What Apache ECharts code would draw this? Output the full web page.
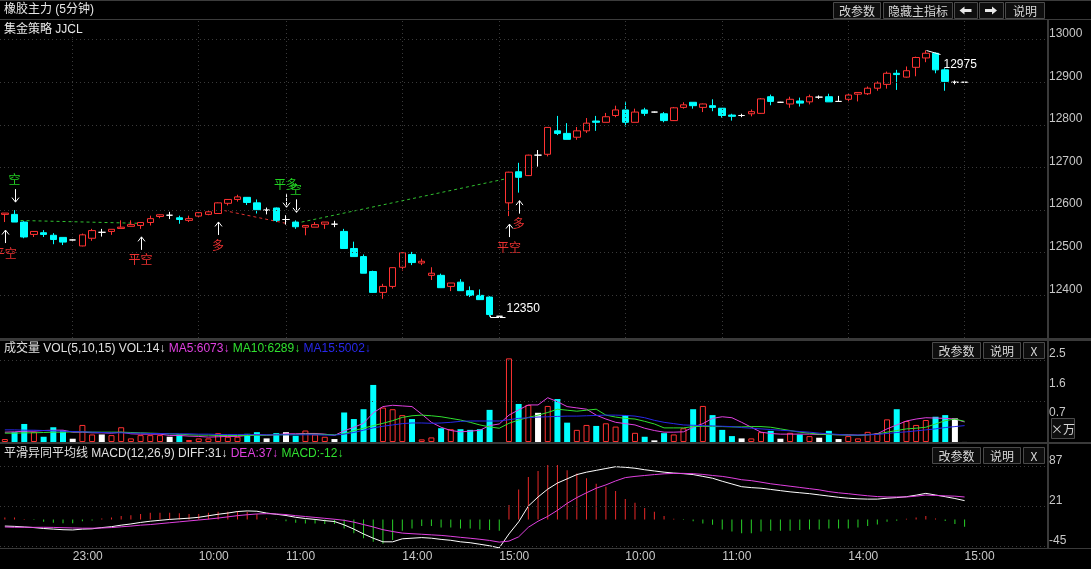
<!DOCTYPE html>
<html><head><meta charset="utf-8">
<script src="https://cdn.jsdelivr.net/npm/echarts@6/dist/echarts.min.js"></script>
<style>html,body{margin:0;padding:0;background:#000;}#c{width:1091px;height:569px;}</style>
</head><body><div id="c"></div>
<script>
// ---------- data ----------
const opens = [12590,12590,12572,12543,12547,12541,12536,12530,12516,12534,
 12548,12550,12557,12562,12564,12571,12585,12588,12582,12576,
 12586,12590,12592,12616,12625,12630,12617,12600,12605,12578,
 12572,12560,12560,12567,12567,12550,12510,12491,12456,12407,
 12421,12466,12496,12476,12447,12447,12421,12431,12411,12400,
 12396,12351,12617,12690,12681,12729,12731,12786,12780,12771,
 12786,12809,12806,12822,12835,12806,12835,12830,12826,12810,
 12841,12853,12841,12845,12839,12823,12822,12826,12827,12866,
 12853,12849,12856,12854,12865,12866,12855,12860,12872,12873,
 12886,12895,12921,12912,12935,12957,12968,12929,12900,12900];
const closes = [12593,12572,12537,12550,12543,12531,12525,12530,12542,12552,
 12548,12555,12560,12566,12571,12580,12589,12588,12578,12580,
 12594,12596,12617,12625,12631,12618,12601,12600,12576,12578,
 12561,12564,12566,12572,12567,12510,12491,12452,12407,12421,
 12465,12500,12477,12480,12452,12418,12429,12411,12400,12390,
 12355,12351,12689,12677,12729,12729,12794,12780,12766,12786,
 12804,12806,12819,12835,12806,12830,12827,12830,12810,12840,
 12847,12845,12849,12841,12822,12820,12822,12831,12861,12855,
 12853,12860,12851,12866,12865,12854,12855,12870,12876,12886,
 12898,12921,12918,12927,12958,12968,12929,12902,12900,12900];
const lows = [12572,12572,12534,12537,12537,12520,12518,12529,12515,12528,
 12538,12542,12557,12562,12556,12564,12581,12579,12568,12572,
 12582,12588,12591,12611,12620,12612,12592,12590,12572,12566,
 12556,12541,12560,12556,12560,12509,12491,12452,12407,12392,
 12416,12458,12471,12471,12436,12418,12410,12411,12396,12390,
 12350,12351,12586,12641,12680,12702,12726,12776,12766,12765,
 12781,12786,12806,12818,12796,12806,12821,12829,12806,12809,
 12838,12838,12830,12832,12817,12810,12818,12820,12826,12846,
 12852,12840,12843,12848,12861,12854,12855,12853,12855,12870,
 12880,12885,12882,12911,12914,12947,12921,12880,12895,12900];
const highs = [12593,12600,12574,12551,12553,12546,12536,12531,12545,12556,
 12556,12555,12576,12576,12572,12587,12590,12596,12587,12587,
 12595,12599,12618,12626,12636,12630,12625,12606,12606,12588,
 12576,12564,12572,12572,12575,12556,12526,12496,12458,12427,
 12466,12501,12502,12486,12466,12451,12429,12438,12421,12414,
 12398,12351,12690,12711,12730,12741,12795,12821,12804,12795,
 12816,12821,12828,12845,12853,12838,12840,12831,12830,12842,
 12853,12853,12850,12860,12839,12826,12826,12836,12863,12871,
 12854,12866,12864,12871,12869,12873,12868,12873,12877,12890,
 12902,12925,12929,12937,12960,12975,12970,12933,12904,12900];
// volume in 万 (x10000 lots)
const volumes = [0.09,0.30,0.55,0.31,0.16,0.45,0.35,0.10,0.52,0.23,
 0.23,0.21,0.45,0.11,0.21,0.21,0.21,0.16,0.23,0.06,
 0.11,0.11,0.27,0.16,0.16,0.25,0.30,0.11,0.27,0.30,
 0.19,0.35,0.23,0.16,0.09,0.90,0.70,1.00,1.74,1.05,
 1.00,0.82,0.70,0.08,0.14,0.42,0.39,0.39,0.37,0.39,
 0.98,0.00,2.55,1.16,1.13,0.89,1.10,1.31,0.59,0.37,
 0.52,0.49,0.57,0.47,0.82,0.28,0.16,0.05,0.27,0.23,
 0.42,1.00,1.10,0.82,0.37,0.18,0.11,0.11,0.30,0.34,
 0.10,0.28,0.23,0.18,0.13,0.34,0.09,0.18,0.11,0.31,
 0.27,0.69,1.00,0.64,0.52,0.67,0.77,0.82,0.72,0.0014];
const volMA5 = [0.30,0.31,0.33,0.33,0.35,0.36,0.36,0.30,0.30,0.28,
 0.28,0.27,0.30,0.25,0.24,0.24,0.24,0.20,0.20,0.18,
 0.17,0.15,0.16,0.17,0.17,0.20,0.23,0.21,0.22,0.25,
 0.25,0.26,0.26,0.24,0.20,0.34,0.45,0.57,0.89,1.08,
 1.12,1.10,1.08,0.85,0.60,0.45,0.35,0.31,0.33,0.36,
 0.50,0.55,0.82,0.98,1.13,1.13,1.35,1.23,1.08,1.04,
 1.00,0.82,0.70,0.60,0.56,0.52,0.42,0.35,0.30,0.30,
 0.31,0.45,0.56,0.72,0.77,0.74,0.60,0.45,0.30,0.26,
 0.24,0.24,0.24,0.24,0.23,0.23,0.22,0.22,0.21,0.22,
 0.25,0.40,0.52,0.64,0.70,0.74,0.73,0.72,0.70,0.61];
const volMA10 = [0.27,0.27,0.28,0.28,0.29,0.30,0.30,0.31,0.31,0.30,
 0.30,0.30,0.30,0.29,0.28,0.27,0.26,0.25,0.24,0.22,
 0.21,0.21,0.20,0.20,0.20,0.20,0.20,0.21,0.22,0.22,
 0.23,0.24,0.24,0.23,0.22,0.25,0.35,0.42,0.50,0.57,
 0.65,0.75,0.80,0.82,0.80,0.77,0.72,0.67,0.60,0.52,
 0.46,0.42,0.57,0.67,0.75,0.82,0.90,1.00,0.97,0.94,
 0.97,1.00,0.82,0.76,0.72,0.70,0.63,0.55,0.43,0.43,
 0.43,0.47,0.48,0.47,0.47,0.46,0.46,0.47,0.47,0.45,
 0.40,0.35,0.30,0.27,0.24,0.23,0.22,0.21,0.20,0.22,
 0.24,0.30,0.35,0.40,0.42,0.45,0.55,0.65,0.70,0.63];
const volMA15 = [0.37,0.37,0.36,0.36,0.35,0.34,0.33,0.32,0.31,0.30,
 0.29,0.28,0.28,0.27,0.27,0.26,0.26,0.25,0.25,0.25,
 0.24,0.24,0.23,0.23,0.23,0.23,0.22,0.22,0.22,0.22,
 0.22,0.22,0.22,0.21,0.21,0.24,0.29,0.36,0.43,0.48,
 0.52,0.56,0.58,0.58,0.57,0.58,0.60,0.63,0.64,0.64,
 0.64,0.64,0.68,0.72,0.74,0.76,0.77,0.78,0.79,0.79,
 0.80,0.81,0.82,0.82,0.81,0.79,0.74,0.66,0.60,0.56,
 0.52,0.51,0.50,0.49,0.48,0.47,0.44,0.42,0.40,0.38,
 0.36,0.34,0.32,0.30,0.27,0.25,0.23,0.21,0.21,0.22,
 0.23,0.26,0.29,0.31,0.34,0.37,0.40,0.44,0.47,0.50];
const diffLine = [-11,-11.5,-12.5,-13.5,-15,-16,-17,-17.4,-16,-15.5,
 -13.5,-12,-9.5,-7.5,-5,-3,-1.5,0,1,2,
 3.5,6,8.5,10.5,13,14,13.5,10.5,8.5,6.5,
 3.5,1.5,0,-2,-3.5,-9,-16,-24,-31,-37,
 -37,-32,-31,-30,-31,-33,-34.5,-37,-38.5,-41,
 -43.5,-47,-24,-4,22,37,50,60,67,74,
 78,81,84,87,86,84.5,82,80,78,76.5,
 75.5,74,71,68,63,58.5,54,52.5,51.5,49.5,
 47.5,45.5,44,42.5,40.5,38.5,36.5,35,34,33.5,
 33.5,35,36,37.5,40,43,40.3,37.5,34.5,31];
const deaLine = [-12.5,-13,-12.9,-13.1,-13,-13.2,-13.7,-14.1,-14.5,-14.5,
 -14.2,-13.5,-12.2,-11,-9.5,-8.5,-7,-5.5,-4,-2.5,
 -1,0.5,2.2,4.2,6.2,7.7,9,9.5,9,8,
 6.2,4.8,3.3,1.8,0.3,-1.5,-4.5,-8.5,-12.5,-17,
 -20,-22.6,-23.6,-24.5,-25.5,-26.4,-27.9,-29.6,-31.1,-32.8,
 -34.7,-37.5,-35.8,-28.8,-13,-3,5,15,26.5,36,
 44,51.5,57,63.5,69,71,72.5,74,75.3,76,
 76,75.5,74.3,72.5,71,68.5,65.5,64,61.5,58.8,
 56.8,54.8,52.8,50.8,48.8,45.9,43.9,42.4,40.6,39,
 37.7,37,37.1,37,38.4,40.2,39.5,38.9,38.4,37];
const macdHist = [3,3,0.8,-0.8,-4,-5.5,-6.5,-6.5,-3,-2,
 1.5,3,5.5,7,9,11,11,11,10,9,
 9,11,12.6,12.6,13.7,12.6,9,2,-1,-3,
 -5.5,-6.6,-6.6,-7.7,-7.7,-15,-23,-31,-37,-40,
 -34,-18.7,-14.8,-11,-11,-13.2,-13.2,-14.8,-14.8,-16.5,
 -17.6,-18.7,23.6,49.5,70,80,90,90,81,76,
 68,59,54,47,33.5,27.5,19,12.6,5.5,1,
 -1,-3,-6.6,-9,-16.5,-20,-23,-23,-20,-18.7,
 -18.7,-18.7,-17.6,-16.5,-16.5,-14.8,-14.8,-14.8,-13.2,-11,
 -8.3,-3.9,-2.2,1,3.3,5.5,1.6,-2.8,-7.7,-12];

const slotCount = 108;
const timeLabelIdx = [7,20,29,41,51,64,74,87,99];
const timeLabels = ['23:00','10:00','11:00','14:00','15:00','10:00','11:00','14:00','15:00'];
const priceTicks = [12400,12500,12600,12700,12800,12900,13000];
const volTicks = [0.7,1.6,2.5];
const volGridVals = [1.25,2.5];
const macdTicks = [87,21,-45];

const sigIdx = [0,1,14,22,29,30,52,53];
const sigText = ['平空','空','平空','多','平多','空','平空','多'];
const sigBelow = [1,0,1,1,0,0,1,1];

const tradeStartIdx = [1,22,30];
const tradeStartPrice = [12576,12602,12569];
const tradeEndIdx = [14,29,52];
const tradeEndPrice = [12569,12569,12675];
const tradeIsLong = [0,1,0];

const extremeIdx = [50,95];
const extremeVal = [12350,12975];
const extremeIsLow = [1,0];

// ---------- chart ----------
const FONT = '"Liberation Sans","Noto Sans CJK SC",sans-serif';
const RED = '#ff3232', CYAN = '#00ffff', GRN = '#30e030', MAG = '#e040e0', BLU = '#2828e8';
const GRIDC = '#3a3a3a', LBL = '#c8c8c8';
const cats = Array.from({length: slotCount}, (_, i) => String(i));
const dirOf = i => closes[i] > opens[i] ? 1 : (closes[i] < opens[i] ? -1 : 0);
const labelMap = {}; timeLabelIdx.forEach((i, k) => labelMap[i] = timeLabels[k]);

const G = [
  {left: 0, right: 44, top: 20, height: 318},
  {left: 0, right: 44, top: 341, height: 101},
  {left: 0, right: 44, top: 444, height: 104}
];
const xAx = G.map((g, gi) => ({
  type: 'category', gridIndex: gi, data: cats, boundaryGap: true,
  axisLine: {show: false}, axisTick: {show: false}, splitLine: {show: false},
  axisLabel: gi === 2 ? {
    show: true, interval: (i) => labelMap[i] !== undefined,
    formatter: (v, i) => labelMap[i] || '', align: 'left', color: LBL,
    fontSize: 12, fontFamily: FONT, margin: 3
  } : {show: false}
}));
const yLabel = {color: LBL, fontSize: 12, fontFamily: FONT, verticalAlign: 'bottom', margin: 2, inside: false};
const yAx = [
  {type: 'value', gridIndex: 0, position: 'right', min: 12300, max: 13046,
   axisLine: {show: false}, axisTick: {show: false},
   axisLabel: Object.assign({customValues: priceTicks, formatter: v => String(v)}, yLabel),
   splitLine: {show: false}},
  {type: 'value', gridIndex: 1, position: 'right', min: 0, max: 3.08,
   axisLine: {show: false}, axisTick: {show: false},
   axisLabel: Object.assign({customValues: volTicks, formatter: v => String(v)}, yLabel),
   splitLine: {show: false}},
  {type: 'value', gridIndex: 2, position: 'right', min: -47.2, max: 124.5,
   axisLine: {show: false}, axisTick: {show: false},
   axisLabel: Object.assign({customValues: macdTicks, formatter: v => String(v)}, yLabel),
   splitLine: {show: false}}
];

const dotted = {color: GRIDC, type: [1, 3], width: 1};

function renderSignal(params, api) {
  const k = params.dataIndex;
  const pt = api.coord([api.value(0), api.value(1)]);
  const below = api.value(2) === 1;
  const dir = below ? 1 : -1;
  const x = Math.round(pt[0]) + 0.5;
  const tip = pt[1] + dir * 8, tail = tip + dir * 13, ty = tail + dir * 10;
  return {type: 'group', children: [
    {type: 'polyline', shape: {points: [[x, tip], [x, tail]]}, style: {stroke: '#fff', lineWidth: 1, fill: null}},
    {type: 'polyline', shape: {points: [[x - 3.5, tip + dir * 4.5], [x, tip], [x + 3.5, tip + dir * 4.5]]}, style: {stroke: '#fff', lineWidth: 1, fill: null}},
    {type: 'text', style: {text: sigText[k], x: pt[0], y: ty, fill: below ? '#e83030' : '#22d022',
      font: '12px "Noto Sans CJK SC"', align: 'center', verticalAlign: 'middle'}}
  ]};
}
function renderExtreme(params, api) {
  const pt = api.coord([api.value(0), api.value(1)]);
  const isLow = api.value(2) === 1;
  const x = Math.round(pt[0]) + 0.5, y = Math.round(pt[1]) + 0.5;
  const txt = String(api.value(1));
  if (isLow) {
    return {type: 'group', children: [
      {type: 'polyline', shape: {points: [[x, y - 2], [x, y], [x + 15, y]]}, style: {stroke: '#fff', lineWidth: 1, fill: null}},
      {type: 'text', style: {text: txt, x: x + 16, y: y - 9, fill: '#fff', font: '12px ' + FONT, align: 'left', verticalAlign: 'middle'}}
    ]};
  }
  return {type: 'group', children: [
    {type: 'polyline', shape: {points: [[x, y], [x + 14, y + 4]]}, style: {stroke: '#fff', lineWidth: 1, fill: null}},
    {type: 'text', style: {text: txt, x: x + 17, y: y + 14, fill: '#fff', font: '12px ' + FONT, align: 'left', verticalAlign: 'middle'}}
  ]};
}

const series = [];
// trade lines (behind candles)
tradeStartIdx.forEach((s, k) => {
  series.push({type: 'line', xAxisIndex: 0, yAxisIndex: 0, z: 1, silent: true, symbol: 'none',
    data: [[s, tradeStartPrice[k]], [tradeEndIdx[k], tradeEndPrice[k]]],
    lineStyle: {color: tradeIsLong[k] ? '#e03030' : '#30c030', width: 1, type: [3, 3]}});
});
series.push({
  type: 'candlestick', xAxisIndex: 0, yAxisIndex: 0, z: 3, barWidth: 7, silent: true,
  data: opens.map((o, i) => [o, closes[i], lows[i], highs[i]]),
  itemStyle: {color: '#000', color0: CYAN, borderColor: RED, borderColor0: CYAN, borderColorDoji: '#fff', borderWidth: 1},
  markLine: {silent: true, symbol: 'none', label: {show: false}, lineStyle: dotted, animation: false,
    data: timeLabelIdx.map(i => ({xAxis: i})).concat(priceTicks.map(v => ({yAxis: v})))}
});
series.push({type: 'custom', xAxisIndex: 0, yAxisIndex: 0, z: 4, silent: true, clip: false,
  renderItem: renderSignal,
  data: sigIdx.map((i, k) => [i, sigBelow[k] ? lows[i] : highs[i], sigBelow[k]])});
series.push({type: 'custom', xAxisIndex: 0, yAxisIndex: 0, z: 4, silent: true, clip: false,
  renderItem: renderExtreme,
  data: extremeIdx.map((i, k) => [i, extremeVal[k], extremeIsLow[k]])});
// volume
series.push({type: 'bar', xAxisIndex: 1, yAxisIndex: 1, barWidth: 6, silent: true, z: 2,
  data: volumes.map((v, i) => {
    const d = dirOf(i);
    return {value: v, itemStyle: d > 0 ? {color: '#000', borderColor: RED, borderWidth: 1}
      : (d < 0 ? {color: CYAN} : {color: '#fff'})};
  }),
  markLine: {silent: true, symbol: 'none', label: {show: false}, lineStyle: dotted, animation: false,
    data: volGridVals.map(v => ({yAxis: v}))}
});
[[volMA5, MAG], [volMA10, GRN], [volMA15, BLU]].forEach(([arr, c]) => {
  series.push({type: 'line', xAxisIndex: 1, yAxisIndex: 1, data: arr, symbol: 'none', silent: true, z: 3,
    lineStyle: {color: c, width: 1}});
});
// MACD
series.push({type: 'bar', xAxisIndex: 2, yAxisIndex: 2, barWidth: 1, silent: true, z: 2,
  data: macdHist.map(v => ({value: v, itemStyle: {color: v >= 0 ? '#e82828' : '#28d028'}})),
  markLine: {silent: true, symbol: 'none', label: {show: false}, lineStyle: dotted, animation: false,
    data: macdTicks.map(v => ({yAxis: v}))}
});
series.push({type: 'line', xAxisIndex: 2, yAxisIndex: 2, data: diffLine, symbol: 'none', silent: true, z: 3,
  lineStyle: {color: '#ffffff', width: 1}});
series.push({type: 'line', xAxisIndex: 2, yAxisIndex: 2, data: deaLine, symbol: 'none', silent: true, z: 3,
  lineStyle: {color: MAG, width: 1}});

// ---------- decorations ----------
const BF = '12px "Noto Sans CJK SC","Liberation Sans",sans-serif';
function btn(x, y, w, h, label) {
  return {type: 'group', x: x, y: y, children: [
    {type: 'rect', shape: {x: 0.5, y: 0.5, width: w, height: h}, style: {fill: '#0e0e0e', stroke: '#4a4a4a', lineWidth: 1}},
    {type: 'text', style: {text: label, x: w / 2 + 0.5, y: h / 2 + 1, fill: '#d8d8d8', font: BF, align: 'center', verticalAlign: 'middle'}}
  ]};
}
function arrowBtn(x, y, w, h, left) {
  const cx = w / 2, cy = h / 2 + 0.5;
  const pts = left
    ? [[cx - 6, cy], [cx - 1, cy - 4], [cx - 1, cy - 1.5], [cx + 6, cy - 1.5], [cx + 6, cy + 1.5], [cx - 1, cy + 1.5], [cx - 1, cy + 4]]
    : [[cx + 6, cy], [cx + 1, cy - 4], [cx + 1, cy - 1.5], [cx - 6, cy - 1.5], [cx - 6, cy + 1.5], [cx + 1, cy + 1.5], [cx + 1, cy + 4]];
  return {type: 'group', x: x, y: y, children: [
    {type: 'rect', shape: {x: 0.5, y: 0.5, width: w, height: h}, style: {fill: '#0e0e0e', stroke: '#4a4a4a', lineWidth: 1}},
    {type: 'polygon', shape: {points: pts}, style: {fill: '#e8e8e8'}}
  ]};
}
const hline = (y, h, c) => ({type: 'rect', shape: {x: 0, y: y, width: 1091, height: h}, style: {fill: c}, z: 10});
const HF = '12px ' + FONT;
const graphic = [
  hline(0, 1, '#3c3c3c'),
  hline(19, 1, '#3c3c3c'),
  hline(338, 3, '#3a3a3a'),
  hline(442, 2, '#3a3a3a'),
  hline(548, 1, '#3a3a3a'),
  {type: 'rect', shape: {x: 1047, y: 20, width: 2, height: 529}, style: {fill: '#3a3a3a'}, z: 10},
  {type: 'text', x: 4, y: 10, style: {text: '橡胶主力 (5分钟)', fill: '#e8e8e8', font: HF, verticalAlign: 'middle'}},
  {type: 'text', x: 4, y: 30, style: {text: '集金策略 JJCL', fill: '#e8e8e8', font: HF, verticalAlign: 'middle'}},
  {type: 'text', x: 4, y: 349, z: 10, style: {
    text: '{w|成交量 VOL(5,10,15) VOL:14↓} {m|MA5:6073↓} {g|MA10:6289↓} {b|MA15:5002↓}',
    font: HF, verticalAlign: 'middle',
    rich: {w: {fill: '#e0e0e0', font: HF}, m: {fill: MAG, font: HF},
           g: {fill: GRN, font: HF}, b: {fill: BLU, font: HF}}}},
  {type: 'text', x: 4, y: 454, z: 10, style: {
    text: '{w|平滑异同平均线 MACD(12,26,9) DIFF:31↓} {m|DEA:37↓} {g|MACD:-12↓}',
    font: HF, verticalAlign: 'middle',
    rich: {w: {fill: '#e0e0e0', font: HF}, m: {fill: MAG, font: HF},
           g: {fill: GRN, font: HF}}}},
  btn(833, 2, 47, 16, '改参数'),
  btn(883, 2, 69, 16, '隐藏主指标'),
  arrowBtn(954, 2, 23, 16, true),
  arrowBtn(979, 2, 24, 16, false),
  btn(1005, 2, 39, 16, '说明'),
  btn(932, 342, 48, 16, '改参数'),
  btn(983, 342, 37, 16, '说明'),
  btn(1023, 342, 21, 16, 'X'),
  btn(932, 447, 48, 16, '改参数'),
  btn(983, 447, 37, 16, '说明'),
  btn(1023, 447, 21, 16, 'X'),
  btn(1051, 418, 23, 20, '×万')
];

const chart = echarts.init(document.getElementById('c'), null, {renderer: 'canvas'});
chart.setOption({
  backgroundColor: '#000', animation: false,
  grid: G, xAxis: xAx, yAxis: yAx, series: series, graphic: graphic
});
</script>
</body></html>
